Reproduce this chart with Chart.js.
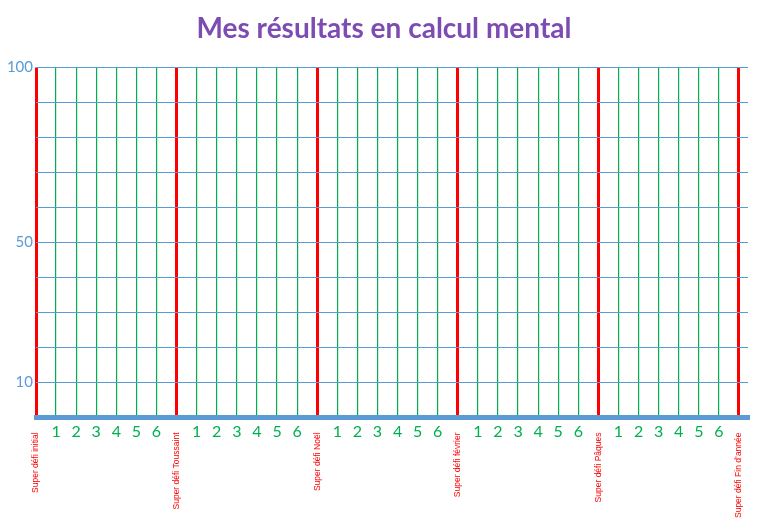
<!DOCTYPE html>
<html><head><meta charset="utf-8">
<script src="https://cdn.jsdelivr.net/npm/chart.js@4.4.1/dist/chart.umd.min.js"></script>
<style>html,body{margin:0;padding:0;background:#fff}#wrap{width:768px;height:532px;position:relative}</style>
</head><body><div id="wrap"><canvas id="c"></canvas></div>
<script>
const chartTitle = 'Mes résultats en calcul mental';
const categories = [
  'Super défi initial', '1', '2', '3', '4', '5', '6',
  'Super défi Toussaint', '1', '2', '3', '4', '5', '6',
  'Super défi Noël', '1', '2', '3', '4', '5', '6',
  'Super défi février', '1', '2', '3', '4', '5', '6',
  'Super défi Pâques', '1', '2', '3', '4', '5', '6',
  'Super défi Fin d\u2019année'
];
const yLabelledTicks = [100, 50, 10];
const scores = []; // aucun résultat encore reporté sur la grille

const RED = '#ff0000', GREEN = '#00b050', BLUE = '#5b9bd5';
const isChallenge = v => Number.isInteger(v) && (categories[v] || '').startsWith('Super');
const categoryTicks = s => { s.ticks = categories.map((_, i) => ({ value: i })); };

// let the number labels of the first x axis run into the (empty) space of the second one
const overlapAxes = {
  id: 'overlapAxes',
  afterLayout(chart) {
    const x = chart.scales.x;
    x.bottom = x.top + 30;
  }
};

new Chart(document.getElementById('c'), {
  type: 'line',
  data: {
    datasets: [{ label: 'Résultats', data: scores.map((y, i) => ({ x: i, y })), borderColor: '#7d4cb3' }]
  },
  plugins: [overlapAxes],
  options: {
    responsive: true, maintainAspectRatio: false, animation: false,
    layout: { padding: { left: 0, right: 0, top: 0, bottom: 11 } },
    plugins: {
      legend: { display: false },
      tooltip: { enabled: false },
      title: {
        display: true, text: chartTitle, color: '#7d4cb3',
        font: { family: 'Lato', size: 28, weight: 'bold' },
        padding: { top: 12, bottom: 22 }
      }
    },
    scales: {
      x: {
        type: 'linear', position: 'bottom', weight: 0,
        min: 0, max: categories.length - 1 + 0.45,
        afterBuildTicks: categoryTicks,
        afterFit: s => { s.height = 4; },
        grid: {
          drawTicks: false,
          color: c => isChallenge(c.tick && c.tick.value) ? RED : GREEN,
          lineWidth: c => isChallenge(c.tick && c.tick.value) ? 3 : 1.2
        },
        border: { color: BLUE, width: 5 },
        ticks: {
          stepSize: 1, autoSkip: false, maxRotation: 0, minRotation: 0,
          callback: v => isChallenge(v) ? '' : categories[v],
          color: GREEN, font: { family: 'Lato', size: 16 }, padding: 5
        }
      },
      x2: {
        type: 'linear', position: 'bottom', weight: 1,
        min: 0, max: categories.length - 1 + 0.45,
        afterBuildTicks: categoryTicks,
        grid: { display: false }, border: { display: false },
        ticks: {
          stepSize: 1, autoSkip: false, maxRotation: 90, minRotation: 90,
          callback: v => isChallenge(v) ? categories[v] : '',
          color: RED, font: { family: 'Liberation Sans', size: 8.5 }, padding: 3
        }
      },
      y: {
        min: 0, max: 100,
        afterFit: s => { s.width = 36; },
        grid: {
          drawTicks: false,
          color: c => (c.tick && c.tick.value === 0) ? 'rgba(0,0,0,0)' : BLUE,
          lineWidth: 1
        },
        border: { display: false },
        ticks: {
          stepSize: 10, autoSkip: false,
          callback: v => yLabelledTicks.includes(v) ? String(v) : '',
          color: BLUE, font: { family: 'Lato', size: 15 }, padding: 3
        }
      },
      yRight: {
        position: 'right', min: 0, max: 100,
        afterFit: s => { s.width = 20; },
        grid: { display: false }, border: { display: false },
        ticks: { display: false }
      }
    }
  }
});
</script>
</body></html>
